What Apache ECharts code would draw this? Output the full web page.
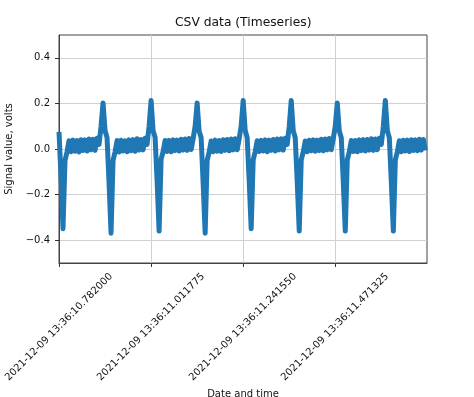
<!DOCTYPE html>
<html lang="en">
<head>
    <meta charset="UTF-8">
    <title>CSV data (Timeseries)</title>
    <script src="https://cdn.jsdelivr.net/npm/echarts@6/dist/echarts.min.js"></script>
    <style>
        html, body { margin: 0; padding: 0; background: #fff; }
    </style>
</head>
<body>

<div id="main" style="width: 474px;height:397px;"></div>

<script type="text/javascript">
    // samples, one every 5 ms starting at 13:36:10.782
    var startSec = 10.782;
    var sampleStep = 0.005;
    var signal = [
        0.075, -0.12, -0.35, -0.05, -0.013,
        0.036, -0.012, 0.039, -0.01, 0.037, -0.013, 0.041, -0.007, 0.04, -0.009, 0.044, -0.004, 0.043, -0.006, 0.047,
        0.02, 0.1, 0.202,
        0.08, 0.05, -0.15, -0.369, -0.05, -0.013,
        0.037, -0.013, 0.038, -0.009, 0.036, -0.012, 0.04, -0.008, 0.041, -0.01, 0.045, -0.005, 0.042, -0.004, 0.047,
        0.02, 0.1, 0.213,
        0.08, 0.052, -0.14, -0.36, -0.046, -0.012,
        0.037, -0.011, 0.038, -0.012, 0.04, -0.007, 0.039, -0.009, 0.043, -0.005, 0.044, -0.006, 0.046, -0.002,
        0.045, 0.1, 0.202,
        0.078, 0.05, -0.15, -0.369, -0.05, -0.014,
        0.035, -0.012, 0.039, -0.01, 0.037, -0.011, 0.041, -0.006, 0.042, -0.008, 0.044, -0.004, 0.045, -0.003,
        0.045, 0.1, 0.213,
        0.082, 0.05, -0.14, -0.35, -0.048, -0.012,
        0.036, -0.011, 0.038, -0.009, 0.04, -0.012, 0.039, -0.006, 0.042, -0.009, 0.044, -0.004, 0.045, -0.005, 0.047,
        0.02, 0.1, 0.213,
        0.08, 0.05, -0.145, -0.36, -0.048, -0.013,
        0.035, -0.012, 0.038, -0.008, 0.04, -0.01, 0.039, -0.007, 0.043, -0.008, 0.044, -0.004, 0.046, -0.003,
        0.045, 0.1, 0.202,
        0.079, 0.05, -0.145, -0.36, -0.048, -0.013,
        0.037, -0.011, 0.037, -0.012, 0.04, -0.007, 0.041, -0.009, 0.042, -0.005, 0.045, -0.006, 0.044, -0.003, 0.047,
        0.02, 0.1, 0.213,
        0.08, 0.05, -0.145, -0.36, -0.048, -0.013,
        0.036, -0.012, 0.038, -0.009, 0.039, -0.011, 0.041, -0.007, 0.04, -0.008, 0.043, -0.005, 0.042, -0.006
    ];

    var xTickValues = [10.782, 11.011775, 11.24155, 11.471325];
    var xTickLabels = [
        '2021-12-09 13:36:10.782000',
        '2021-12-09 13:36:11.011775',
        '2021-12-09 13:36:11.241550',
        '2021-12-09 13:36:11.471325'
    ];
    var yTickValues = [-0.4, -0.2, 0, 0.2, 0.4];
    var yTickLabels = ['\u22120.4', '\u22120.2', '0.0', '0.2', '0.4'];

    var points = [];
    for (var i = 0; i < signal.length; i++) {
        points.push([startSec + i * sampleStep, signal[i]]);
    }

    function lookup(values, labels, v) {
        for (var k = 0; k < values.length; k++) {
            if (Math.abs(values[k] - v) < 1e-6) return labels[k];
        }
        return '';
    }

    var font = 'DejaVu Sans';
    var myChart = echarts.init(document.getElementById('main'));

    myChart.setOption({
        animation: false,
        backgroundColor: '#fff',
        title: {
            text: 'CSV data (Timeseries)',
            left: 170,
            top: 12,
            textStyle: { fontFamily: font, fontSize: 12.3, fontWeight: 'normal', color: '#111' }
        },
        grid: {
            left: 59, right: 47, top: 35, bottom: 134,
            containLabel: false,
            outerBoundsMode: 'none',
            show: true,
            borderColor: '#444',
            borderWidth: 1
        },
        xAxis: {
            type: 'value',
            min: 10.782,
            max: 11.7011,
            name: 'Date and time',
            nameLocation: 'middle',
            nameGap: 125,
            nameTextStyle: { fontFamily: font, fontSize: 10, color: '#111' },
            axisLine: { show: true, onZero: false, lineStyle: { color: '#444', width: 1 } },
            axisTick: { show: true, length: 4, customValues: xTickValues, lineStyle: { color: '#333' } },
            axisLabel: {
                customValues: xTickValues,
                rotate: 45,
                align: 'center',
                verticalAlign: 'middle',
                margin: 64,
                fontFamily: font,
                fontSize: 10,
                color: '#111',
                formatter: function (v) { return lookup(xTickValues, xTickLabels, v); }
            },
            splitLine: { show: true, lineStyle: { color: '#d0d0d0', width: 1 } }
        },
        yAxis: {
            type: 'value',
            min: -0.5,
            max: 0.5,
            name: 'Signal value, volts',
            nameLocation: 'middle',
            nameGap: 36,
            nameTextStyle: { fontFamily: font, fontSize: 10, color: '#111' },
            axisLine: { show: true, onZero: false, lineStyle: { color: '#444', width: 1 } },
            axisTick: { show: true, length: 4, customValues: yTickValues, lineStyle: { color: '#333' } },
            axisLabel: {
                customValues: yTickValues,
                margin: 9,
                fontFamily: font,
                fontSize: 10,
                color: '#111',
                formatter: function (v) { return lookup(yTickValues, yTickLabels, v); }
            },
            splitLine: { show: true, lineStyle: { color: '#d0d0d0', width: 1 } }
        },
        series: [{
            name: 'signal',
            type: 'line',
            data: points,
            showSymbol: false,
            symbol: 'none',
            lineStyle: { color: '#1f77b4', width: 5, join: 'round' },
            itemStyle: { color: '#1f77b4' }
        }]
    });
</script>
</body>
</html>
